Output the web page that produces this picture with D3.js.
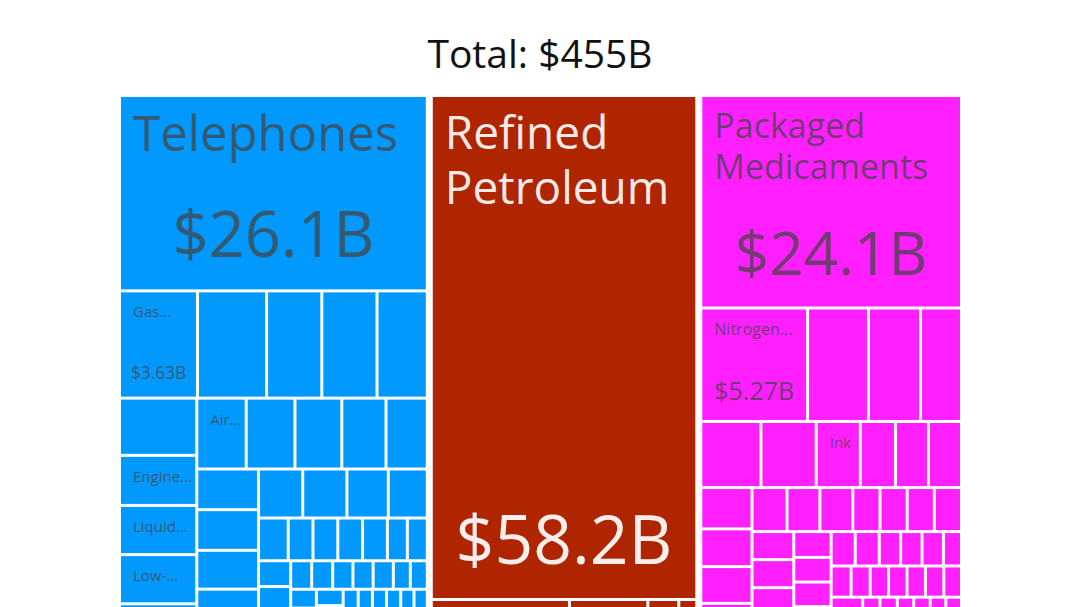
<!DOCTYPE html>
<meta charset="utf-8" />
<html>
<head>
    <style>
        body { margin: 0; background: #fff; overflow: hidden; }
        svg { display: block; font-family: "Open Sans", sans-serif; }
    </style>
</head>
<body>
    <svg width="1080" height="607"></svg>
    <script src="https://d3js.org/d3.v7.min.js"></script>
    <script>
        // exports by section, values in billions of USD
        var machineryNames = [
            "Telephones", "Gas Turbines", "Computers", "Broadcasting Equipment", "Integrated Circuits", "Electric Batteries",
            "Transformers", "Engine Parts", "Liquid Pumps", "Low-voltage Protection Equipment", "Electric Motors", "Semiconductor Devices",
            "Air Pumps", "Valves", "Centrifuges", "Electrical Lighting and Signalling Equipment", "Machinery Having Individual Functions",
            "Industrial Printers", "Insulated Wire", "Electric Generating Sets", "Refrigerators", "Excavation Machinery", "Ball Bearings",
            "Harvesting Machinery", "Vacuum Cleaners", "Electric Heaters", "Sound Recording Equipment",
            "Metalworking Machines", "Printed Circuit Boards", "Electric Soldering Equipment", "Textile Fiber Machinery", "Household Washing Machines", "Video Displays", "Sewing Machines",
            "Office Machine Parts", "Vending Machines", "Lifting Machinery", "Industrial Furnaces", "Calculators", "Spray Machinery",
            "Cranes", "Scales", "Dishwashers", "Microphones and Headphones", "Electric Filament Lamps", "Rolling Machines", "Packing Machinery",
            "Steam Boilers", "Boiler Plant Accessories", "Steam Turbines", "Spark-Ignition Engines", "Combustion Engines", "Hydraulic Turbines", "Other Engines", "Air Conditioners",
            "Furnace Burners", "Heat Exchangers", "Electric Water Heaters", "Calendering Machines", "Pulley Systems", "Forklifts", "Elevators", "Conveyor Belts",
            "Soil Preparation Machinery", "Poultry Keeping Machinery", "Dairy Machinery", "Wine Presses", "Flour Milling Machinery", "Food Processing Machines", "Paper Making Machines", "Bookbinding Machines",
            "Knitting Machines", "Weaving Machines", "Leather Machinery", "Metal Molds", "Laser Cutting Machines", "Metal Lathes", "Drilling Machines", "Metal Finishing Machines",
            "Stone Processing Machines", "Tool Holders", "Pneumatic Hand Tools", "Typewriters", "Photocopiers", "Molding Machines", "Cash Registers", "Electrical Ignitions",
            "Electric Motor Parts", "Electromagnets", "Shavers", "Hairdryers", "Video Recorders", "Radio Receivers", "Burglar Alarms", "Capacitors",
            "Resistors", "Electrical Insulators", "Nuclear Reactors", "Gear Boxes", "Domestic Irons", "Electric Fans"
        ];
        var machineryValues = [
            26.1, 3.63, 3.22, 2.57, 2.57, 2.34,
            1.92, 1.68, 1.65, 1.65, 1.60, 1.55,
            1.52, 1.50, 1.44, 1.36, 1.27,
            1.09, 1.09, 1.04, 1.00, 0.96, 0.95,
            0.94, 0.94, 0.88, 0.83,
            0.55, 0.46, 0.46, 0.46, 0.46, 0.37, 0.37,
            0.36, 0.33, 0.32, 0.31, 0.30, 0.29,
            0.26, 0.26, 0.25, 0.25, 0.25, 0.21, 0.21,
            0.21, 0.21, 0.20, 0.20, 0.20, 0.19, 0.19, 0.19,
            0.18, 0.18, 0.18, 0.17, 0.17, 0.17, 0.16, 0.16,
            0.16, 0.15, 0.15, 0.15, 0.14, 0.14, 0.14, 0.13,
            0.13, 0.13, 0.12, 0.12, 0.12, 0.11, 0.11, 0.11,
            0.10, 0.10, 0.10, 0.09, 0.09, 0.09, 0.08, 0.08,
            0.08, 0.07, 0.07, 0.06, 0.06, 0.05, 0.05, 0.04,
            0.04, 0.03, 0.03, 0.02, 0.02, 0.01
        ];

        var mineralNames = [
            "Refined Petroleum", "Petroleum Gas", "Coal Briquettes", "Petroleum Coke", "Iron Ore", "Cement", "Salt",
            "Granite", "Sulphur", "Petroleum Jelly", "Gypsum", "Marble", "Manganese Ore", "Mica"
        ];
        var mineralValues = [58.2, 5.9, 2.35, 1.0, 0.55, 0.32, 0.28, 0.25, 0.2, 0.14, 0.12, 0.1, 0.08, 0.05];

        var chemicalNames = [
            "Packaged Medicaments", "Nitrogenous Fertilizers", "Heterocyclic Compounds", "Polyacetals", "Pesticides",
            "Antisera and Vaccines", "Mixed Mineral or Chemical Fertilizers", "Ink", "Potassic Fertilizers", "Phosphatic Fertilizers", "Synthetic Coloring Matter",
            "Beauty Products", "Perfumes", "Vitamins", "Hormones", "Glycosides", "Antibiotics",
            "Nucleic Acids", "Carboxylic Acids", "Acyclic Alcohols", "Amino Compounds", "Phenols", "Ethers", "Ketones",
            "Sulfonamides", "Amides", "Nitrile Compounds", "Organo-Sulfur Compounds", "Halogenated Hydrocarbons", "Cyclic Hydrocarbons",
            "Epoxides", "Aldehydes", "Sulfuric Acid", "Phosphoric Acid", "Hydrogen", "Fluorides", "Chlorides",
            "Sulfates", "Nitrates", "Carbonates", "Silicates", "Activated Carbon", "Tanning Extracts",
            "Pigments", "Paints", "Varnishes", "Glazes", "Artist Paints", "Essential Oils", "Scented Mixtures",
            "Soap", "Lubricating Products", "Waxes", "Candles", "Polishes", "Casein", "Albumins", "Gelatin",
            "Peptones", "Prepared Glues", "Enzymes", "Explosives", "Fireworks", "Matches", "Photographic Plates", "Photographic Film",
            "Photographic Chemicals", "Graphite", "Chemical Analysis Reagents", "Anti-knock Preparations", "Catalysts", "Fatty Acids", "Prepared Binders", "Fatty Alcohols",
            "Dental Products", "Rare-Earth Compounds", "Radioactive Chemicals", "Metal Oxides", "Zinc Oxide", "Titanium Oxides", "Aluminium Oxide", "Manganese Oxides",
            "Hydrazine", "Sulfides", "Phosphates", "Chromates", "Cyanides", "Borates"
        ];
        var chemicalValues = [
            24.1, 5.27, 3.01, 2.57, 2.02,
            1.73, 1.59, 1.27, 1.01, 0.95, 0.95,
            0.92, 0.84, 0.82, 0.72, 0.70, 0.68,
            0.67, 0.63, 0.63, 0.52, 0.52, 0.52, 0.52,
            0.51, 0.51, 0.50, 0.50, 0.50, 0.50,
            0.42, 0.40, 0.40, 0.38, 0.37, 0.37, 0.36,
            0.36, 0.36, 0.32, 0.32, 0.32, 0.27,
            0.27, 0.26, 0.25, 0.25, 0.25, 0.25, 0.24,
            0.24, 0.24, 0.23, 0.23, 0.22, 0.22, 0.21, 0.21,
            0.20, 0.20, 0.19, 0.19, 0.18, 0.18, 0.17, 0.17,
            0.16, 0.16, 0.15, 0.15, 0.14, 0.14, 0.13, 0.13,
            0.12, 0.12, 0.11, 0.11, 0.10, 0.10, 0.09, 0.09,
            0.08, 0.08, 0.07, 0.07, 0.06, 0.06
        ];

        var otherSectionNames = ["Transportation", "Metals", "Precious Metals", "Textiles", "Vegetable Products",
            "Plastics and Rubbers", "Instruments", "Foodstuffs", "Animal Products"];
        var otherSectionValues = [48.0, 42.5, 38.0, 35.0, 22.0, 18.0, 12.0, 10.8, 10.4];

        var sectionColor = {
            "Machinery": "#0299fe",
            "Mineral Products": "#ae2500",
            "Chemical Products": "#ff1fff",
            "Transportation": "#2a607c",
            "Metals": "#d67d49",
            "Precious Metals": "#3f3f3f",
            "Textiles": "#73ad4a",
            "Vegetable Products": "#f8c600",
            "Plastics and Rubbers": "#e8a3a3",
            "Instruments": "#9cf2cf",
            "Foodstuffs": "#a0d447",
            "Animal Products": "#ffe999"
        };

        function section(name, names, values) {
            return {
                name: name,
                children: names.map(function (n, i) { return { name: n, value: values[i] }; })
            };
        }

        var data = {
            name: "Total",
            children: [
                section("Machinery", machineryNames, machineryValues),
                section("Mineral Products", mineralNames, mineralValues),
                section("Chemical Products", chemicalNames, chemicalValues)
            ].concat(otherSectionNames.map(function (n, i) { return { name: n, value: otherSectionValues[i] }; }))
        };

        var svg = d3.select("svg");
        var svgH = +svg.attr("height");
        var fmt = d3.format(".3~r");
        var mapX = 119, mapY = 95;

        var root = d3.hierarchy(data)
            .sum(function (d) { return d.children ? 0 : d.value; })
            .sort(function (a, b) { return b.value - a.value; });

        d3.treemap()
            .tile(d3.treemapSquarify)
            .size([843, 1260.5])
            .paddingInner(3)
            .paddingOuter(function (d) { return d.depth === 1 ? 2 : 0; })
            .round(false)(root);

        svg.append("text")
            .attr("x", 540)
            .attr("y", 67.5)
            .attr("text-anchor", "middle")
            .attr("font-size", 39)
            .attr("fill", "#111")
            .text("Total: $" + fmt(root.value) + "B");

        var ctx = document.createElement("canvas").getContext("2d");
        function measure(s, size) {
            ctx.font = size + "px 'Open Sans'";
            return ctx.measureText(s).width;
        }
        function tokens(name) { return name.match(/[^\s-]+-?|-/g); }
        function joinTokens(tk) {
            return tk.reduce(function (s, t, i) {
                return s + (i && !tk[i - 1].endsWith("-") ? " " : "") + t;
            }, "");
        }
        function wrap(name, size, maxW) {
            var tk = tokens(name), lines = [], cur = [];
            for (var i = 0; i < tk.length; i++) {
                if (measure(tk[i], size) > maxW) return null;
                if (measure(joinTokens(cur.concat([tk[i]])), size) <= maxW) cur.push(tk[i]);
                else { lines.push(joinTokens(cur)); cur = [tk[i]]; }
            }
            if (cur.length) lines.push(joinTokens(cur));
            return lines;
        }

        function valueSize(w, h, nameH) {
            return Math.min(w * 0.27 - 3, (h - 12 - nameH) * 0.52);
        }

        function bigLabel(d) {
            var w = d.x1 - d.x0, h = d.y1 - d.y0;
            for (var s = 52; s >= 18; s--) {
                var lines = wrap(d.data.name, s, w - 36);
                if (!lines) continue;
                var nameH = lines.length * s * 1.2;
                if (nameH > 0.4 * h) continue;
                var vSize = valueSize(w, h, nameH);
                if (12 + nameH + vSize * 1.3 + 12 > h) continue;
                return { size: s, lines: lines, vSize: vSize };
            }
            return null;
        }

        function smallLabel(d) {
            var w = d.x1 - d.x0, h = d.y1 - d.y0;
            var tk = tokens(d.data.name);
            var sizes = w >= 90 ? [16, 15, 14, 13] : [15, 14, 13];
            for (var k = 0; k < sizes.length; k++) {
                var s = sizes[k];
                if (h < s + 24) continue;
                var full = joinTokens(tk);
                if (measure(full, s) <= w - 14) return { size: s, lines: [full] };
                for (var n = tk.length - 1; n >= 1; n--) {
                    var t = joinTokens(tk.slice(0, n)) + "...";
                    if (measure(t, s) <= w - 14) return { size: s, lines: [t] };
                }
                var word = tk[0];
                for (var c = word.length - 1; c >= Math.ceil(word.length * 0.7); c--) {
                    var t2 = word.slice(0, c) + "...";
                    if (measure(t2, s) <= w - 20) return { size: s, lines: [t2] };
                }
            }
            return null;
        }

        var leaf = svg.append("g")
            .attr("transform", "translate(" + mapX + "," + mapY + ")")
            .selectAll("g")
            .data(root.leaves())
            .enter()
            .append("g");

        function sectionOf(d) { return d.depth > 1 ? d.parent.data.name : d.data.name; }

        leaf.append("rect")
            .attr("x", function (d) { return d.x0; })
            .attr("y", function (d) { return d.y0; })
            .attr("width", function (d) { return Math.max(0, d.x1 - d.x0); })
            .attr("height", function (d) { return Math.max(0, d.y1 - d.y0); })
            .attr("fill", function (d) { return sectionColor[sectionOf(d)]; });

        leaf.each(function (d) {
            var w = d.x1 - d.x0, h = d.y1 - d.y0;
            var label = bigLabel(d) || smallLabel(d);
            if (!label) return;
            // labels of tiles below the visible area are left out
            var lastLine = d.y0 + 12 + label.size * 0.86 + (label.lines.length - 1) * label.size * 1.2;
            if (mapY + lastLine + label.size * 0.3 > svgH) return;

            var dark = d3.lab(sectionColor[sectionOf(d)]).l > 50;
            var g = d3.select(this);
            var fill = dark ? "#444" : "#fff";
            var op = dark ? 0.75 : 0.92;

            label.lines.forEach(function (line, i) {
                g.append("text")
                    .attr("x", d.x0 + 12)
                    .attr("y", d.y0 + 12 + label.size * 0.86 + i * label.size * 1.2)
                    .attr("font-size", label.size)
                    .attr("fill", fill)
                    .attr("fill-opacity", op)
                    .text(line);
            });

            var vSize = label.vSize || valueSize(w, h, label.size * 1.2);
            var vText = "$" + fmt(d.value) + "B";
            var vy = d.y1 - 12 - vSize * 0.33;
            if (!label.vSize && (h < 90 || measure(vText, vSize) > w - 12)) return;
            if (mapY + vy + vSize * 0.25 > svgH) return;
            g.append("text")
                .attr("x", (d.x0 + d.x1) / 2)
                .attr("y", vy)
                .attr("text-anchor", "middle")
                .attr("font-size", vSize)
                .attr("fill", fill)
                .attr("fill-opacity", op)
                .text(vText);
        });
    </script>
</body>
</html>
